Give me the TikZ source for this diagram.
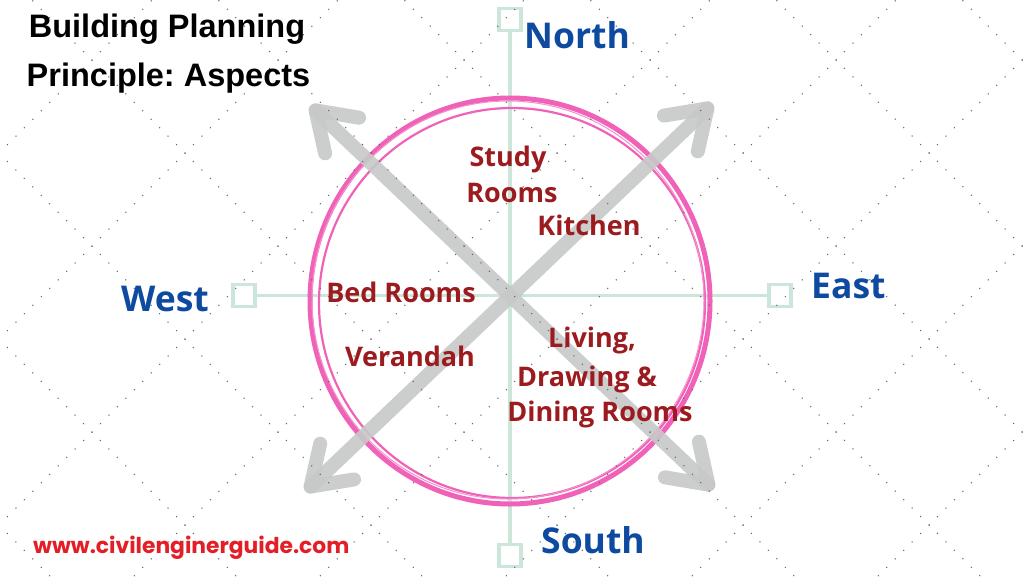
\documentclass[tikz,border=0pt]{standalone}
\usepackage{fontspec}
\usetikzlibrary{calc}
\setmainfont{Liberation Sans}
\newfontfamily\osfont{Open Sans}
\newfontfamily\popfont{Poppins}[UprightFont=* SemiBold,BoldFont=* Bold]
\definecolor{dirblue}{RGB}{13,74,160}
\definecolor{roomred}{RGB}{155,27,31}
\definecolor{webred}{RGB}{228,30,38}
\definecolor{ringpink}{RGB}{240,98,184}
\definecolor{mint}{RGB}{204,230,217}
\definecolor{arrowgray}{RGB}{199,200,200}
\definecolor{dotgray}{RGB}{100,100,100}
\tikzset{
  dotline/.style={draw=dotgray,line width=1.5pt,line cap=round,dash pattern=on 0pt off 11.9565pt},
  mintline/.style={draw=mint,line width=3.2pt},
  mintbox/.style={draw=mint,line width=3.2pt,fill=white,minimum size=22pt,inner sep=0pt},
  bigarrow/.style={draw=arrowgray,line width=14pt,line cap=round,line join=round,opacity=0.9},
  dirlabel/.style={text=dirblue,font=\osfont\bfseries\fontsize{35.5}{42}\selectfont,inner sep=0pt},
  roomlabel/.style={text=roomred,font=\osfont\bfseries\fontsize{27}{37}\selectfont,inner sep=0pt,align=center},
  titlelabel/.style={text=black,font=\bfseries\fontsize{32.5}{38}\selectfont,inner sep=0pt},
}
\begin{document}
\frenchspacing
\begin{tikzpicture}[x=1pt,y=-1pt]
\useasboundingbox (0,0) rectangle (1024,576);
\fill[white] (0,0) rectangle (1024,576);
% green axes
\node[mintbox] (sqN) at (510,19.5) {};
\node[mintbox] (sqS) at (510,555.5) {};
\node[mintbox] (sqW) at (244,295.5) {};
\node[mintbox] (sqE) at (780,295.5) {};
\draw[mintline] (sqN) -- (sqS);
\draw[mintline] (sqW) -- (sqE);
% pink ring
\draw[ringpink,line width=5pt] (510,301) circle[x radius=200,y radius=203];
\draw[ringpink,line width=2.2pt] (512,303) circle[x radius=193,y radius=195];
\draw[ringpink!70,line width=1pt] (508,300) circle[x radius=196,y radius=199];
% arrows
\coordinate (aNE) at (707.4,108.4);
\coordinate (aSW) at (310.6,486.6);
\coordinate (bNW) at (315.6,110.4);
\coordinate (bSE) at (708.4,484.6);
\draw[bigarrow] (aSW) -- (aNE);
\draw[bigarrow] (bNW) -- (bSE);
\draw[bigarrow] ($(aNE)+(170.6:44)$) -- (aNE) -- ($(aNE)+(102.6:44)$);
\draw[bigarrow] ($(aSW)+(-9.4:44)$) -- (aSW) -- ($(aSW)+(-77.4:44)$);
\draw[bigarrow] ($(bNW)+(9.5:44)$) -- (bNW) -- ($(bNW)+(77.5:44)$);
\draw[bigarrow] ($(bSE)+(189.5:44)$) -- (bSE) -- ($(bSE)+(257.5:44)$);
% dotted diagonal grid
\foreach \a in {-1,...,8}{
  \pgfmathsetmacro{\sA}{2*\a-8}\pgfmathsetmacro{\sB}{2*\a+2}
  \draw[dotline] ({92+93*\sA},{60+93*8}) -- ({92+93*\sB},{60-93*2});
}
\foreach \b in {-3,...,5}{
  \pgfmathsetmacro{\sA}{2*\b-2}\pgfmathsetmacro{\sB}{2*\b+8}
  \draw[dotline] ({92+93*\sA},{60-93*2}) -- ({92+93*\sB},{60+93*8});
}
% title
\node[titlelabel,anchor=base] (t1) at (167,37) {Building Planning};
\node[titlelabel,anchor=base] (t2) at (168.5,86) {Principle: Aspects};
% directions
\node[dirlabel,anchor=base west] (north) at (524,48) {North};
\node[dirlabel,anchor=base west] (west) at (121,311) {West};
\node[dirlabel,anchor=base west] (east) at (811,298) {East};
\node[dirlabel,anchor=base west] (south) at (541,553) {South};
% rooms
\node[roomlabel,anchor=base] (study) at (508,166) {Study};
\node[roomlabel,anchor=base] (rooms) at (512,202) {Rooms};
\node[roomlabel,anchor=base] (kitchen) at (589,235) {Kitchen};
\node[roomlabel,anchor=base] (bed) at (401,302) {Bed Rooms};
\node[roomlabel,anchor=base] (veranda) at (410,366) {Verandah};
\node[roomlabel,anchor=base] (living) at (592,347) {Living,};
\node[roomlabel,anchor=base] (drawing) at (587,386) {Drawing \&};
\node[roomlabel,anchor=base] (dining) at (600,421) {Dining Rooms};
% website
\node[text=webred,font=\popfont\bfseries\fontsize{21.8}{26}\selectfont,inner sep=0pt,anchor=base west] (web) at (33,553) {www.civilenginerguide.com};
\end{tikzpicture}
\end{document}
